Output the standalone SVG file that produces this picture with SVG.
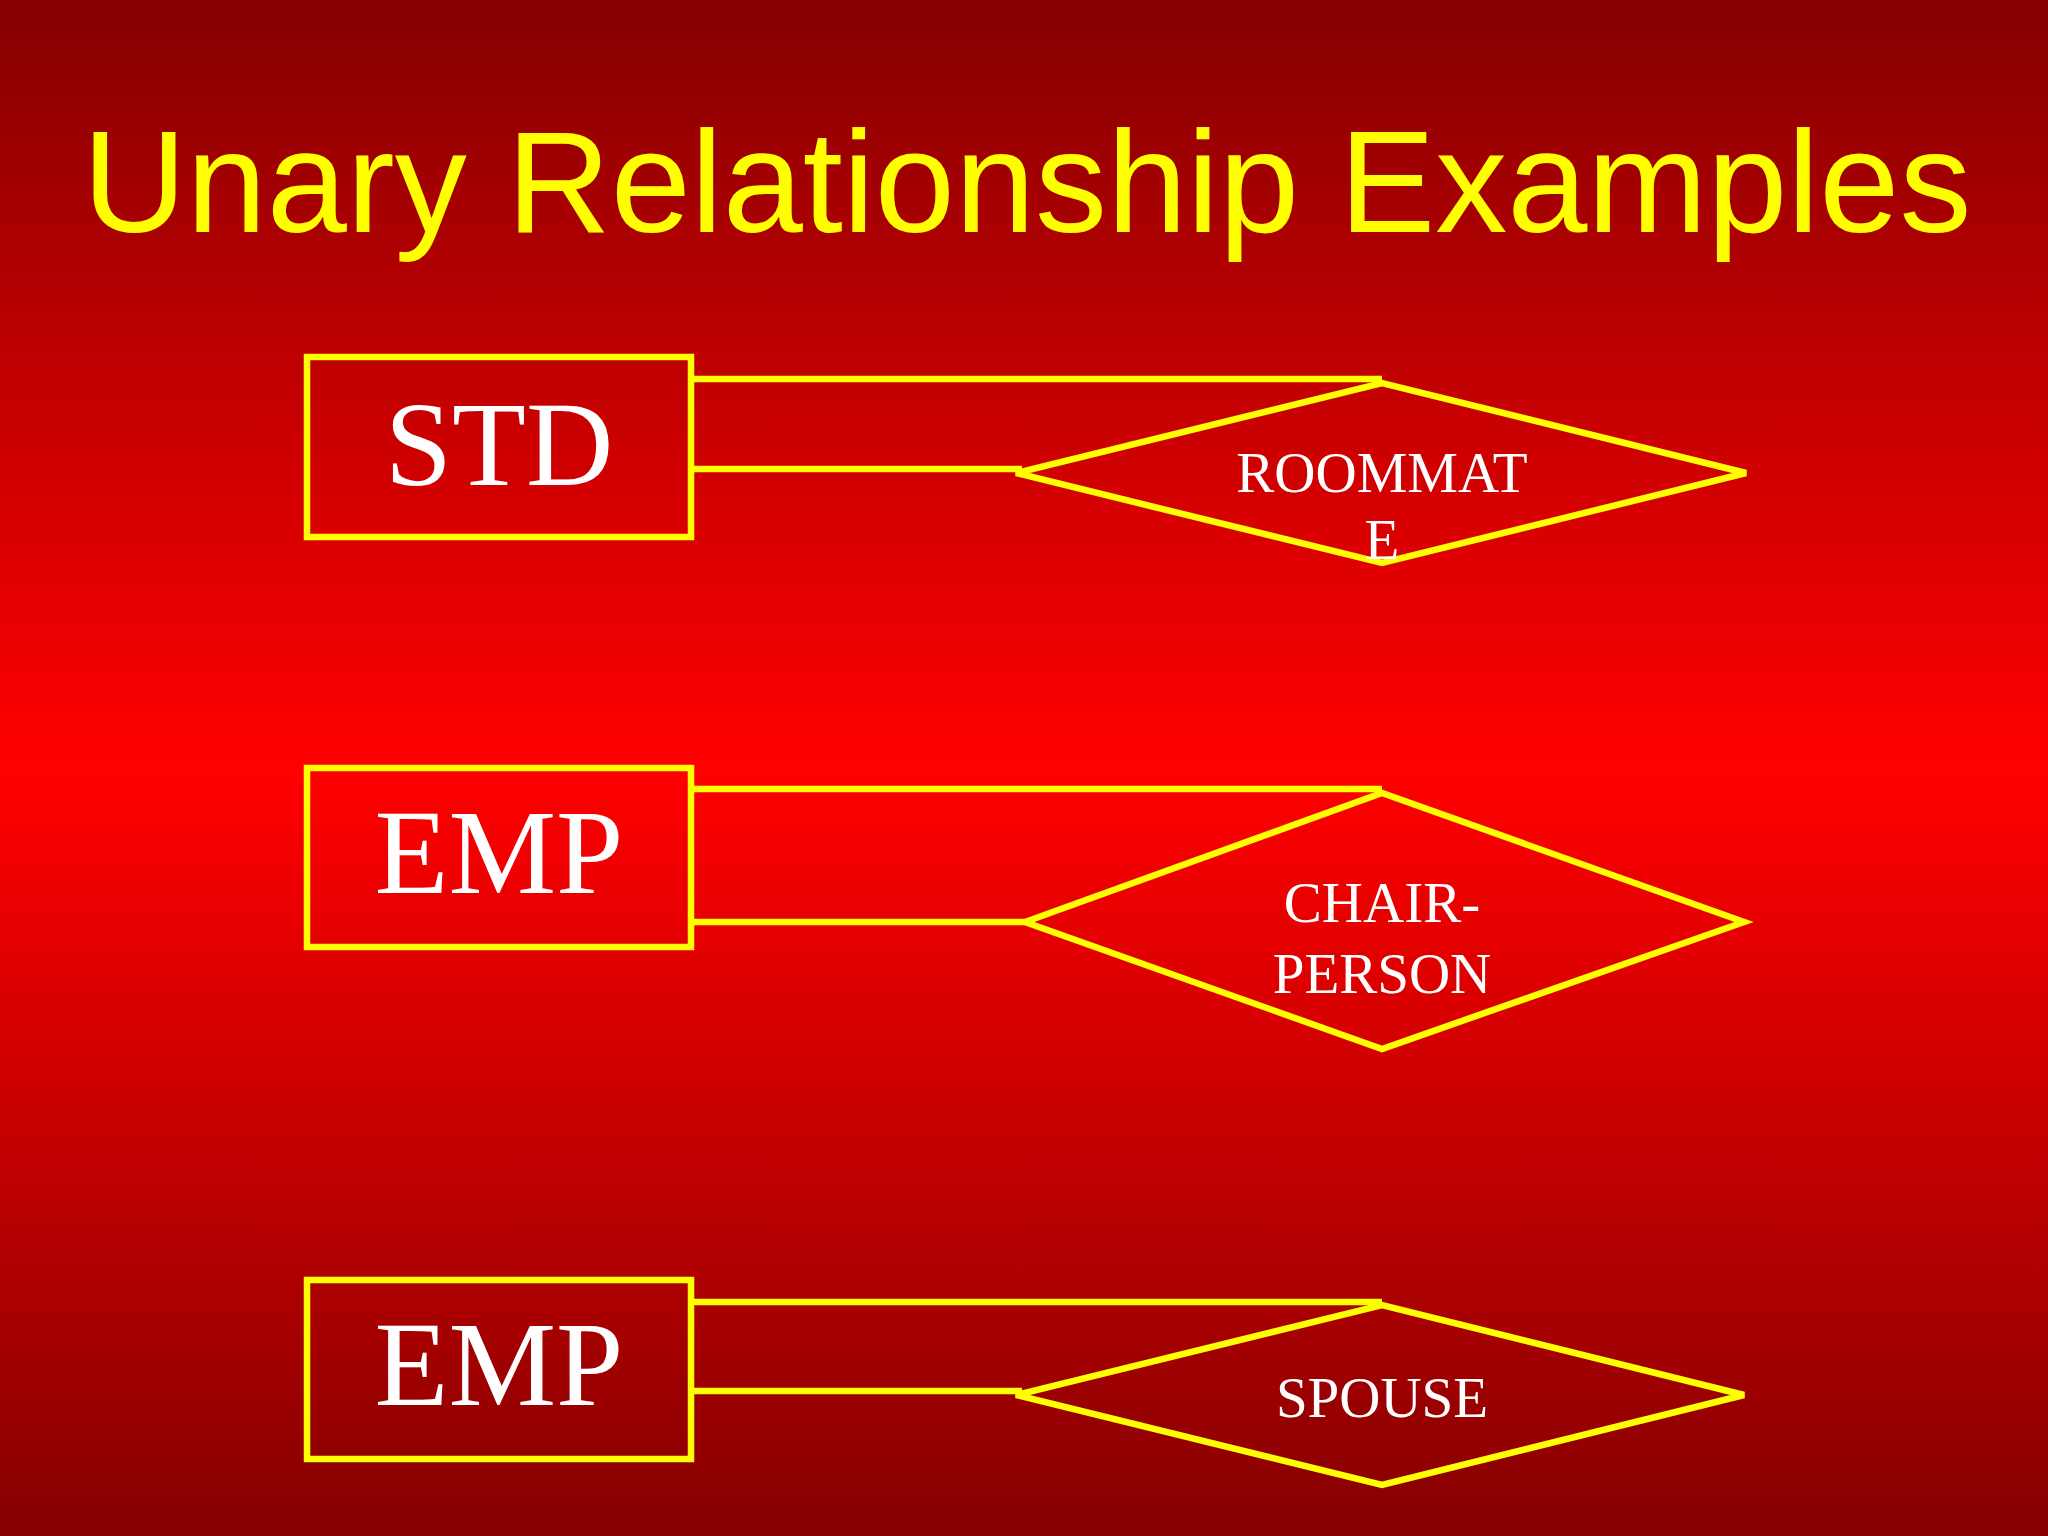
<svg xmlns="http://www.w3.org/2000/svg" width="2048" height="1536" viewBox="0 0 2048 1536">
<defs>
<linearGradient id="bg" x1="0" y1="0" x2="0" y2="1">
<stop offset="0" stop-color="#850000"/>
<stop offset="0.5" stop-color="#ff0000"/>
<stop offset="1" stop-color="#850000"/>
</linearGradient>
</defs>
<style>
.s{fill:none;stroke:#ffff00;stroke-width:6.5}
.e{font-family:"Liberation Serif",serif;font-size:121px;fill:#fff;text-anchor:middle}
.r{font-family:"Liberation Serif",serif;font-size:57px;fill:#fff;text-anchor:middle}
</style>
<rect width="2048" height="1536" fill="url(#bg)"/>
<text x="1027" y="232" font-family="Liberation Sans,sans-serif" font-size="144" fill="#ffff00" text-anchor="middle">Unary Relationship Examples</text>
<g id="connectors">
<line class="s" x1="691" y1="379" x2="1382" y2="379"/>
<line class="s" x1="691" y1="469" x2="1022" y2="469"/>
<line class="s" x1="691" y1="789" x2="1382" y2="789"/>
<line class="s" x1="691" y1="922" x2="1025" y2="922"/>
<line class="s" x1="691" y1="1302" x2="1382" y2="1302"/>
<line class="s" x1="691" y1="1391" x2="1022" y2="1391"/>
</g>
<g id="std"><rect class="s" x="307" y="357" width="384" height="180"/><text class="e" x="499" y="485">STD</text></g>
<g id="emp1"><rect class="s" x="307" y="768" width="384" height="179"/><text class="e" x="499" y="893">EMP</text></g>
<g id="emp2"><rect class="s" x="307" y="1280" width="384" height="179"/><text class="e" x="499" y="1405">EMP</text></g>
<g id="roommate"><polygon class="s" points="1016,473 1382,383 1746,473 1382,563"/><text class="r" x="1382" y="492">ROOMMAT</text><text class="r" x="1382" y="559">E</text></g>
<g id="chair"><polygon class="s" points="1025,922 1382,793 1744,922 1382,1049"/><text class="r" x="1382" y="922">CHAIR-</text><text class="r" x="1382" y="993">PERSON</text></g>
<g id="spouse"><polygon class="s" points="1016,1395 1382,1305 1744,1395 1382,1485"/><text class="r" x="1382" y="1417">SPOUSE</text></g>
</svg>
